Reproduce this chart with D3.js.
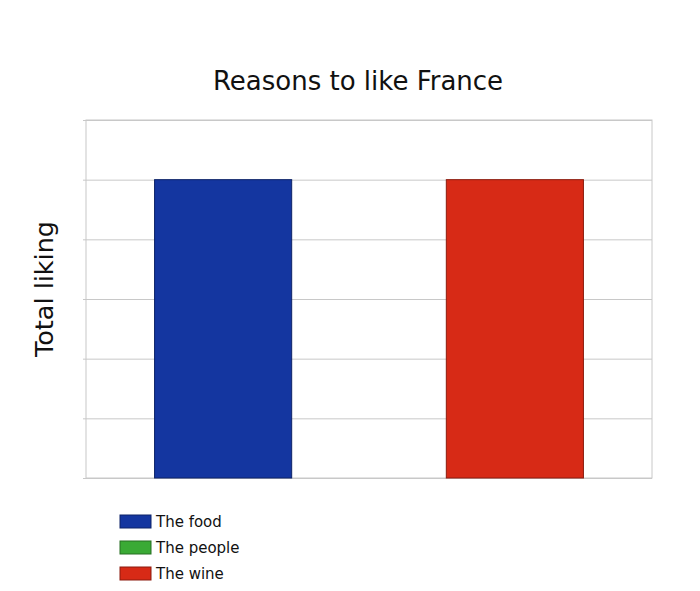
<!DOCTYPE html>
<html>
<head>
<meta charset="utf-8">
<script src="https://cdn.jsdelivr.net/npm/d3@7"></script>
<style>
  html, body { margin: 0; padding: 0; background: #fff; overflow: hidden; }
  svg { display: block; font-family: "DejaVu Sans", Verdana, sans-serif; }
</style>
</head>
<body>
<svg id="chart" width="700" height="591" viewBox="0 0 700 591"></svg>
<script>
// chart data
const categories = ["The food", "The people", "The wine"];
const values = [5, 0, 5];
const colors = ["#1436a0", "#3aaa35", "#d72a16"];
const yTicks = [0, 1, 2, 3, 4, 5, 6];

const svg = d3.select('#chart');
const margin = { top: 120, right: 48, bottom: 113, left: 86 };
const innerWidth = 700 - margin.left - margin.right;
const innerHeight = 591 - margin.top - margin.bottom;

const g = svg.append('g')
    .attr('transform', `translate(${margin.left},${margin.top})`);

const xScale = d3.scaleBand()
    .domain(categories)
    .range([0, innerWidth])
    .paddingInner(0.06)
    .paddingOuter(0.47);

const yScale = d3.scaleLinear()
    .domain([0, 6])
    .range([innerHeight, 0]);

// gridlines + small ticks on the left
g.append('g')
    .attr('transform', 'translate(-3,0)')
    .call(d3.axisLeft(yScale).tickValues(yTicks).tickSize(-innerWidth - 3).tickFormat(''))
    .call(a => a.select('.domain').remove())
    .call(a => a.selectAll('text').remove())
    .selectAll('line')
    .attr('stroke', '#c8c8c8');

// frame
g.append('rect')
    .attr('width', innerWidth)
    .attr('height', innerHeight)
    .attr('fill', 'none')
    .attr('stroke', '#c8c8c8');

g.selectAll('.bar')
    .data(categories)
    .enter()
    .append('rect')
    .attr('class', 'bar')
    .attr('x', d => xScale(d))
    .attr('y', (d, i) => yScale(values[i]))
    .attr('width', xScale.bandwidth())
    .attr('height', (d, i) => innerHeight - yScale(values[i]))
    .attr('fill', (d, i) => colors[i])
    .attr('stroke', (d, i) => d3.color(colors[i]).darker(1.2))
    .attr('stroke-width', 1);

svg.append('text')
    .attr('x', 358)
    .attr('y', 90)
    .attr('text-anchor', 'middle')
    .style('font-size', '26px')
    .style('fill', '#111')
    .text('Reasons to like France');

svg.append('text')
    .attr('transform', 'translate(53,289) rotate(-90)')
    .attr('text-anchor', 'middle')
    .style('font-size', '25.5px')
    .style('fill', '#111')
    .text('Total liking');

// legend
const legend = svg.append('g')
    .attr('transform', 'translate(120,515)');

const item = legend.selectAll('g')
    .data(categories)
    .enter()
    .append('g')
    .attr('transform', (d, i) => `translate(0,${i * 26})`);

item.append('rect')
    .attr('width', 31)
    .attr('height', 13)
    .attr('fill', (d, i) => colors[i])
    .attr('stroke', (d, i) => d3.color(colors[i]).darker(1.2));

item.append('text')
    .attr('x', 36)
    .attr('y', 12)
    .style('font-size', '15px')
    .style('fill', '#111')
    .text(d => d);
</script>
</body>
</html>
